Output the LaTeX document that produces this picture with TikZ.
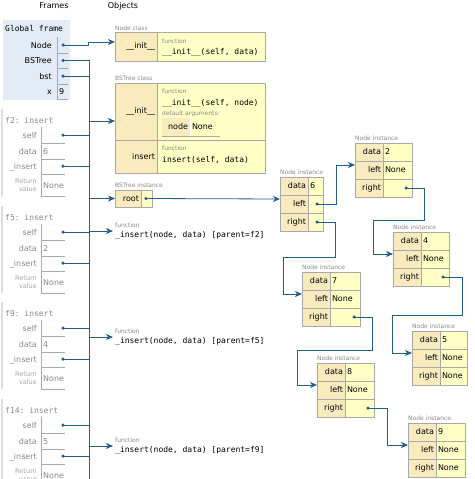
\documentclass[tikz,border=0pt]{standalone}
\usepackage{fontspec}
\setmainfont{DejaVu Sans}
\setsansfont{DejaVu Sans}
\setmonofont{DejaVu Sans Mono}
\usetikzlibrary{arrows.meta, positioning}

\definecolor{keybg}{HTML}{FAEBBF}
\definecolor{valbg}{HTML}{FFFFC6}
\definecolor{globbg}{HTML}{E2EBF6}
\definecolor{ptrblue}{HTML}{235F8C}
\definecolor{cellgray}{HTML}{A8A8A8}
\definecolor{fadetext}{HTML}{888888}
\definecolor{barback}{HTML}{DDDDDD}

\tikzset{
  head/.style={font=\fontsize{8}{9}\selectfont, inner sep=0pt},
  lbl/.style={font=\fontsize{6}{7}\selectfont, text=fadetext, inner sep=0pt, anchor=base west},
  sig/.style={font=\ttfamily\fontsize{8}{9}\selectfont, inner sep=0pt, anchor=base west},
  cellbase/.style={draw=cellgray, line width=0.5pt, inner xsep=2pt, inner ysep=0pt, outer sep=0pt, minimum height=18pt, font=\fontsize{8}{9}\selectfont},
  keycell/.style={cellbase, fill=keybg, text width=24pt, align=right},
  valcell/.style={cellbase, fill=valbg, align=left},
  fvar/.style={font=\fontsize{8}{9}\selectfont, text=fadetext, inner sep=0pt, anchor=base east},
  fval/.style={font=\fontsize{8}{9}\selectfont, text=fadetext, inner sep=0pt, anchor=base west},
  varcell/.style={inner sep=0pt, outer sep=0pt, minimum height=15.5pt, anchor=west},
  cellline/.style={draw=cellgray, line width=0.5pt},
  framebar/.style={draw=barback, line width=2pt},
  fnobj/.style={anchor=west, align=left, inner xsep=2pt, inner ysep=0pt, font=\ttfamily\fontsize{8}{10}\selectfont},
  ptrdot/.style={circle, fill=ptrblue, inner sep=0pt, minimum size=3.5pt},
  ptrline/.style={draw=ptrblue, line width=0.8pt},
  ptr/.style={ptrline, -{Stealth[length=7pt, width=6pt, inset=2pt]}},
}

% one Node instance: name, x, y, value text width, data, left, right
\newcommand{\nodeinst}[7]{%
  \node[keycell, anchor=north west] (#1-dk) at (#2,#3) {data};
  \node[valcell, text width=#4pt, right=0pt of #1-dk] (#1-dv) {#5};
  \node[keycell, below=0pt of #1-dk] (#1-lk) {left};
  \node[valcell, text width=#4pt, right=0pt of #1-lk] (#1-lv) {#6};
  \node[keycell, below=0pt of #1-lk] (#1-rk) {right};
  \node[valcell, text width=#4pt, right=0pt of #1-rk] (#1-rv) {#7};
  \node[lbl] at (#2,#3-3) {Node instance};
}

% one insert frame: name, header y, header, data value
\newcommand{\callframe}[4]{%
  \draw[framebar] (1.5,#2-11) -- (1.5,#2+76);
  \node[sig, text=fadetext] (#1) at (5,#2+3) {#3};
  \node[fvar] at (37,#2+18) {self};
  \node[varcell, minimum width=24pt] (#1-self) at (41,#2+15) {};
  \node[fvar] at (37,#2+34) {data};
  \node[varcell, minimum width=24pt] (#1-data) at (41,#2+31) {};
  \node[fval] at (43,#2+34) {#4};
  \node[fvar] at (37,#2+49) {\_insert};
  \node[varcell, minimum width=24pt] (#1-ins) at (41,#2+46) {};
  \node[fvar, text=black!35, align=right, font=\fontsize{6.5}{8.5}\selectfont, anchor=east] at (37,#2+65) {Return\\value};
  \node[varcell, minimum width=24pt, minimum height=22pt] (#1-ret) at (41,#2+65) {};
  \node[fval] at (43,#2+68) {None};
  \foreach \cc in {self,data,ins,ret}
    \draw[cellline] (#1-\cc.north west) -- (#1-\cc.south west) -- (#1-\cc.south east);
  \node[ptrdot] (#1-selfp) at ([xshift=-2pt]#1-self.east) {};
  \node[ptrdot] (#1-insp) at ([xshift=-2pt]#1-ins.east) {};
}

\begin{document}
\begin{tikzpicture}[x=1pt, y=-1pt]
\useasboundingbox (0,0) rectangle (474,479);

% headings
\node[head] (hframes) at (54,6) {Frames};
\node[head] (hobjects) at (123,6) {Objects};

% global frame
\fill[globbg] (3,20) rectangle (70,100);
\node[sig] (gframe) at (5,31) {Global frame};
\foreach \nm/\lab/\yy in {node/Node/45, bstree/BSTree/60.5, bst/bst/76, x/x/91.5} {
  \node[fvar, text=black] at (52,\yy+3) {\lab};
  \node[varcell, minimum width=11pt] (g-\nm) at (57,\yy) {};
  \draw[cellline] (g-\nm.north west) -- (g-\nm.south west) -- (g-\nm.south east);
}
\node[fval, text=black] at (59,94.5) {9};
\node[ptrdot] (p-node) at ([xshift=-5pt]g-node.east) {};
\node[ptrdot] (p-bstree) at ([xshift=-5pt]g-bstree.east) {};
\node[ptrdot] (p-bst) at ([xshift=-5pt]g-bst.east) {};

% insert frames
\callframe{f2}{120}{f2: insert}{6}
\callframe{f5}{217}{f5: insert}{2}
\callframe{f9}{313}{f9: insert}{4}
\callframe{f14}{410}{f14: insert}{5}

% Node class
\node[lbl] at (115,30) {Node class};
\node[keycell, anchor=north west, text width=38pt, minimum height=29pt] (nc-k) at (115,32) {\_\_init\_\_};
\node[valcell, anchor=north west, text width=104pt, minimum height=29pt] (nc-v) at (157,32) {};
\node[lbl] at (162,43) {function};
\node[sig] at (162,54.5) {\_\_init\_\_(self, data)};

% BSTree class
\node[lbl] at (115,80) {BSTree class};
\node[keycell, anchor=north west, text width=38pt, minimum height=57pt] (bs-ik) at (115,83) {\_\_init\_\_};
\node[valcell, anchor=north west, text width=104pt, minimum height=57pt] (bs-iv) at (157,83) {};
\node[keycell, anchor=north west, text width=38pt, minimum height=33pt] (bs-nk) at (115,140) {insert};
\node[valcell, anchor=north west, text width=104pt, minimum height=33pt] (bs-nv) at (157,140) {};
\node[lbl] at (162,93) {function};
\node[sig] at (162,105) {\_\_init\_\_(self, node)};
\node[lbl] at (162,115.5) {default arguments:};
\node[keycell, draw=none, anchor=north west, minimum height=18pt] (da-k) at (162,118) {node};
\node[cellbase, draw=none, anchor=north west, text width=26pt, align=left] (da-v) at (190,118) {None};
\draw[cellline] (da-k.south west) -- (da-v.south east);
\draw[cellline, draw=white] (da-k.north east) -- (da-k.south east);
\node[lbl] at (162,150) {function};
\node[sig] at (162,162) {insert(self, data)};

% BSTree instance
\node[lbl] at (115,187) {BSTree instance};
\node[keycell, anchor=north west, text width=22pt, minimum height=17pt] (root-k) at (115,190) {root};
\node[valcell, text width=7pt, minimum height=17pt, right=0pt of root-k] (root-v) {};
\node[ptrdot] (p-root) at ([xshift=-6pt]root-v.east) {};

% function objects
\node[fnobj] (fn2) at (113,231) {{\sffamily\fontsize{6}{7}\selectfont\color{fadetext}function}\\\_insert(node, data) [parent=f2]};
\node[fnobj] (fn5) at (113,337) {{\sffamily\fontsize{6}{7}\selectfont\color{fadetext}function}\\\_insert(node, data) [parent=f5]};
\node[fnobj] (fn9) at (113,446) {{\sffamily\fontsize{6}{7}\selectfont\color{fadetext}function}\\\_insert(node, data) [parent=f9]};

% Node instances
\nodeinst{n6}{280}{177}{11}{6}{}{}
\nodeinst{n2}{355}{143}{25}{2}{None}{}
\nodeinst{n4}{393}{232}{24}{4}{None}{}
\nodeinst{n7}{302}{272}{26}{7}{None}{}
\nodeinst{n5}{412}{331}{23}{5}{None}{None}
\nodeinst{n8}{317}{363}{25}{8}{None}{}
\nodeinst{n9}{408}{423}{25}{9}{None}{None}

\node[ptrdot] (n6-lp) at ([xshift=-6pt]n6-lv.east) {};
\node[ptrdot] (n6-rp) at ([xshift=-6pt]n6-rv.east) {};
\node[ptrdot] (n2-rp) at ([xshift=-6pt]n2-rv.east) {};
\node[ptrdot] (n4-rp) at ([xshift=-6pt]n4-rv.east) {};
\node[ptrdot] (n7-rp) at ([xshift=-6pt]n7-rv.east) {};
\node[ptrdot] (n8-rp) at ([xshift=-6pt]n8-rv.east) {};

% arrow targets
\coordinate (ncin) at ([yshift=4.5pt]nc-k.west);
\coordinate (bscin) at ([yshift=-9.5pt]bs-ik.west);
\foreach \n in {n6,n2,n4,n7,n5,n8,n9}
  \coordinate (\n in) at ([yshift=5pt]\n-lk.west);

% frame pointers
\coordinate (trunk) at (89,60.5);
\coordinate (trunkend) at (89,479);
\draw[ptrline, line width=1pt] (p-bstree.center) -- (trunk) -- (trunkend);
\draw[ptrline] (p-bst.center) -- (p-bst -| trunk);
\foreach \f in {f2,f5,f9,f14} {
  \draw[ptrline] (\f-selfp.center) -- (\f-selfp -| trunk);
  \draw[ptrline] (\f-insp.center) -- (\f-insp -| trunk);
}
\draw[ptr] (p-node.center) -- ++(25,0) |- (ncin);
\draw[ptr] (bscin -| trunk) -- (bscin);
\draw[ptr] (root-k.west -| trunk) -- (root-k.west);
\draw[ptr] (fn2.west -| trunk) -- (fn2.west);
\draw[ptr] (fn5.west -| trunk) -- (fn5.west);
\draw[ptr] (fn9.west -| trunk) -- (fn9.west);

% tree pointers
\draw[ptr] (p-root.center) -- (n6in);
\draw[ptr] (n6-lp.center) -- ++(19,0) |- (n2in);
\draw[ptr] (n6-rp.center) -- ++(18,0) |- (283,257) |- (n7in);
\draw[ptr] (n2-rp.center) -- ++(18,0) |- (373,220) |- (n4in);
\draw[ptr] (n4-rp.center) -- ++(19,0) |- (392,315) |- (n5in);
\draw[ptr] (n7-rp.center) -- ++(18,0) |- (297,350) |- (n8in);
\draw[ptr] (n8-rp.center) -- ++(19,0) |- (n9in);
\end{tikzpicture}
\end{document}
